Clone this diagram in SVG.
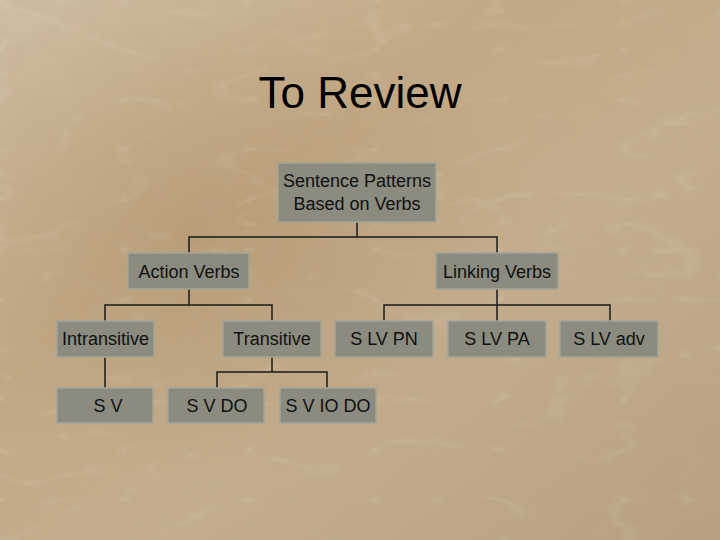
<svg xmlns="http://www.w3.org/2000/svg" width="720" height="540" viewBox="0 0 720 540">
  <defs>
    <linearGradient id="bg" x1="0" y1="0" x2="1" y2="1">
      <stop offset="0" stop-color="#cfbea2"/>
      <stop offset="0.35" stop-color="#c2a985"/>
      <stop offset="0.6" stop-color="#c4ae8e"/>
      <stop offset="1" stop-color="#b7a07f"/>
    </linearGradient>
    <radialGradient id="warm" cx="0.3" cy="0.45" r="0.45">
      <stop offset="0" stop-color="#a8855c" stop-opacity="0.35"/>
      <stop offset="1" stop-color="#a8855c" stop-opacity="0"/>
    </radialGradient>
    <filter id="marble" x="0" y="0" width="100%" height="100%">
      <feTurbulence type="fractalNoise" baseFrequency="0.025 0.035" numOctaves="4" seed="7"/>
      <feColorMatrix type="matrix" values="0 0 0 0 0.52  0 0 0 0 0.4  0 0 0 0 0.27  1.3 0 0 0 -0.5"/>
    </filter>
    <filter id="veins" x="0" y="0" width="100%" height="100%">
      <feTurbulence type="turbulence" baseFrequency="0.008 0.02" numOctaves="3" seed="3"/>
      <feColorMatrix type="matrix" values="0 0 0 0 0.9  0 0 0 0 0.88  0 0 0 0 0.84  -3 0 0 0 0.45"/>
    </filter>
    <style>
      .box { fill: #8b8b7f; stroke: #a4a497; stroke-width: 1.5; }
      .lbl { font-family: "Liberation Sans", Arial, sans-serif; font-size: 18px; fill: #111111; text-anchor: middle; }
      .conn { fill: none; stroke: #1a1a1a; stroke-width: 1.5; }
    </style>
  </defs>

  <rect x="0" y="0" width="720" height="540" fill="url(#bg)"/>
  <rect x="0" y="0" width="720" height="540" fill="url(#warm)"/>
  <rect x="0" y="0" width="720" height="540" filter="url(#marble)" opacity="0.45"/>
  <rect x="0" y="0" width="720" height="540" filter="url(#veins)" opacity="0.25"/>

  <text x="360" y="108" font-family="'Liberation Sans', Arial, sans-serif" font-size="44" fill="#000000" text-anchor="middle">To Review</text>

  <g id="connectors">
    <path class="conn" d="M357 222 V237 M189 253 V237 H497 V253"/>
    <path class="conn" d="M189 289 V305 M105 321 V305 H272 V321"/>
    <path class="conn" d="M497 289 V321 M384 321 V305 H610 V321"/>
    <path class="conn" d="M105 357 V388"/>
    <path class="conn" d="M272 357 V372 M217 388 V372 H327 V388"/>
  </g>

  <g id="sentence-patterns">
    <rect class="box" x="278" y="163" width="158" height="59"/>
    <text class="lbl" x="357" y="187">Sentence Patterns</text>
    <text class="lbl" x="357" y="210">Based on Verbs</text>
  </g>
  <g id="action-verbs">
    <rect class="box" x="128" y="253" width="121" height="36"/>
    <text class="lbl" x="189" y="277.5">Action Verbs</text>
  </g>
  <g id="linking-verbs">
    <rect class="box" x="436" y="253" width="122" height="36"/>
    <text class="lbl" x="497" y="277.5">Linking Verbs</text>
  </g>
  <g id="intransitive">
    <rect class="box" x="57" y="321" width="97" height="36"/>
    <text class="lbl" x="105.5" y="345">Intransitive</text>
  </g>
  <g id="transitive">
    <rect class="box" x="223" y="321" width="98" height="36"/>
    <text class="lbl" x="272" y="345">Transitive</text>
  </g>
  <g id="s-lv-pn">
    <rect class="box" x="335" y="321" width="98" height="36"/>
    <text class="lbl" x="384" y="345">S LV PN</text>
  </g>
  <g id="s-lv-pa">
    <rect class="box" x="448" y="321" width="98" height="36"/>
    <text class="lbl" x="497" y="345">S LV PA</text>
  </g>
  <g id="s-lv-adv">
    <rect class="box" x="560" y="321" width="98" height="36"/>
    <text class="lbl" x="609" y="345">S LV adv</text>
  </g>
  <g id="s-v">
    <rect class="box" x="57" y="388" width="96" height="35"/>
    <text class="lbl" x="108" y="412">S V</text>
  </g>
  <g id="s-v-do">
    <rect class="box" x="168" y="388" width="96" height="35"/>
    <text class="lbl" x="217" y="412">S V DO</text>
  </g>
  <g id="s-v-io-do">
    <rect class="box" x="280" y="388" width="96" height="35"/>
    <text class="lbl" x="328" y="412">S V IO DO</text>
  </g>
</svg>
